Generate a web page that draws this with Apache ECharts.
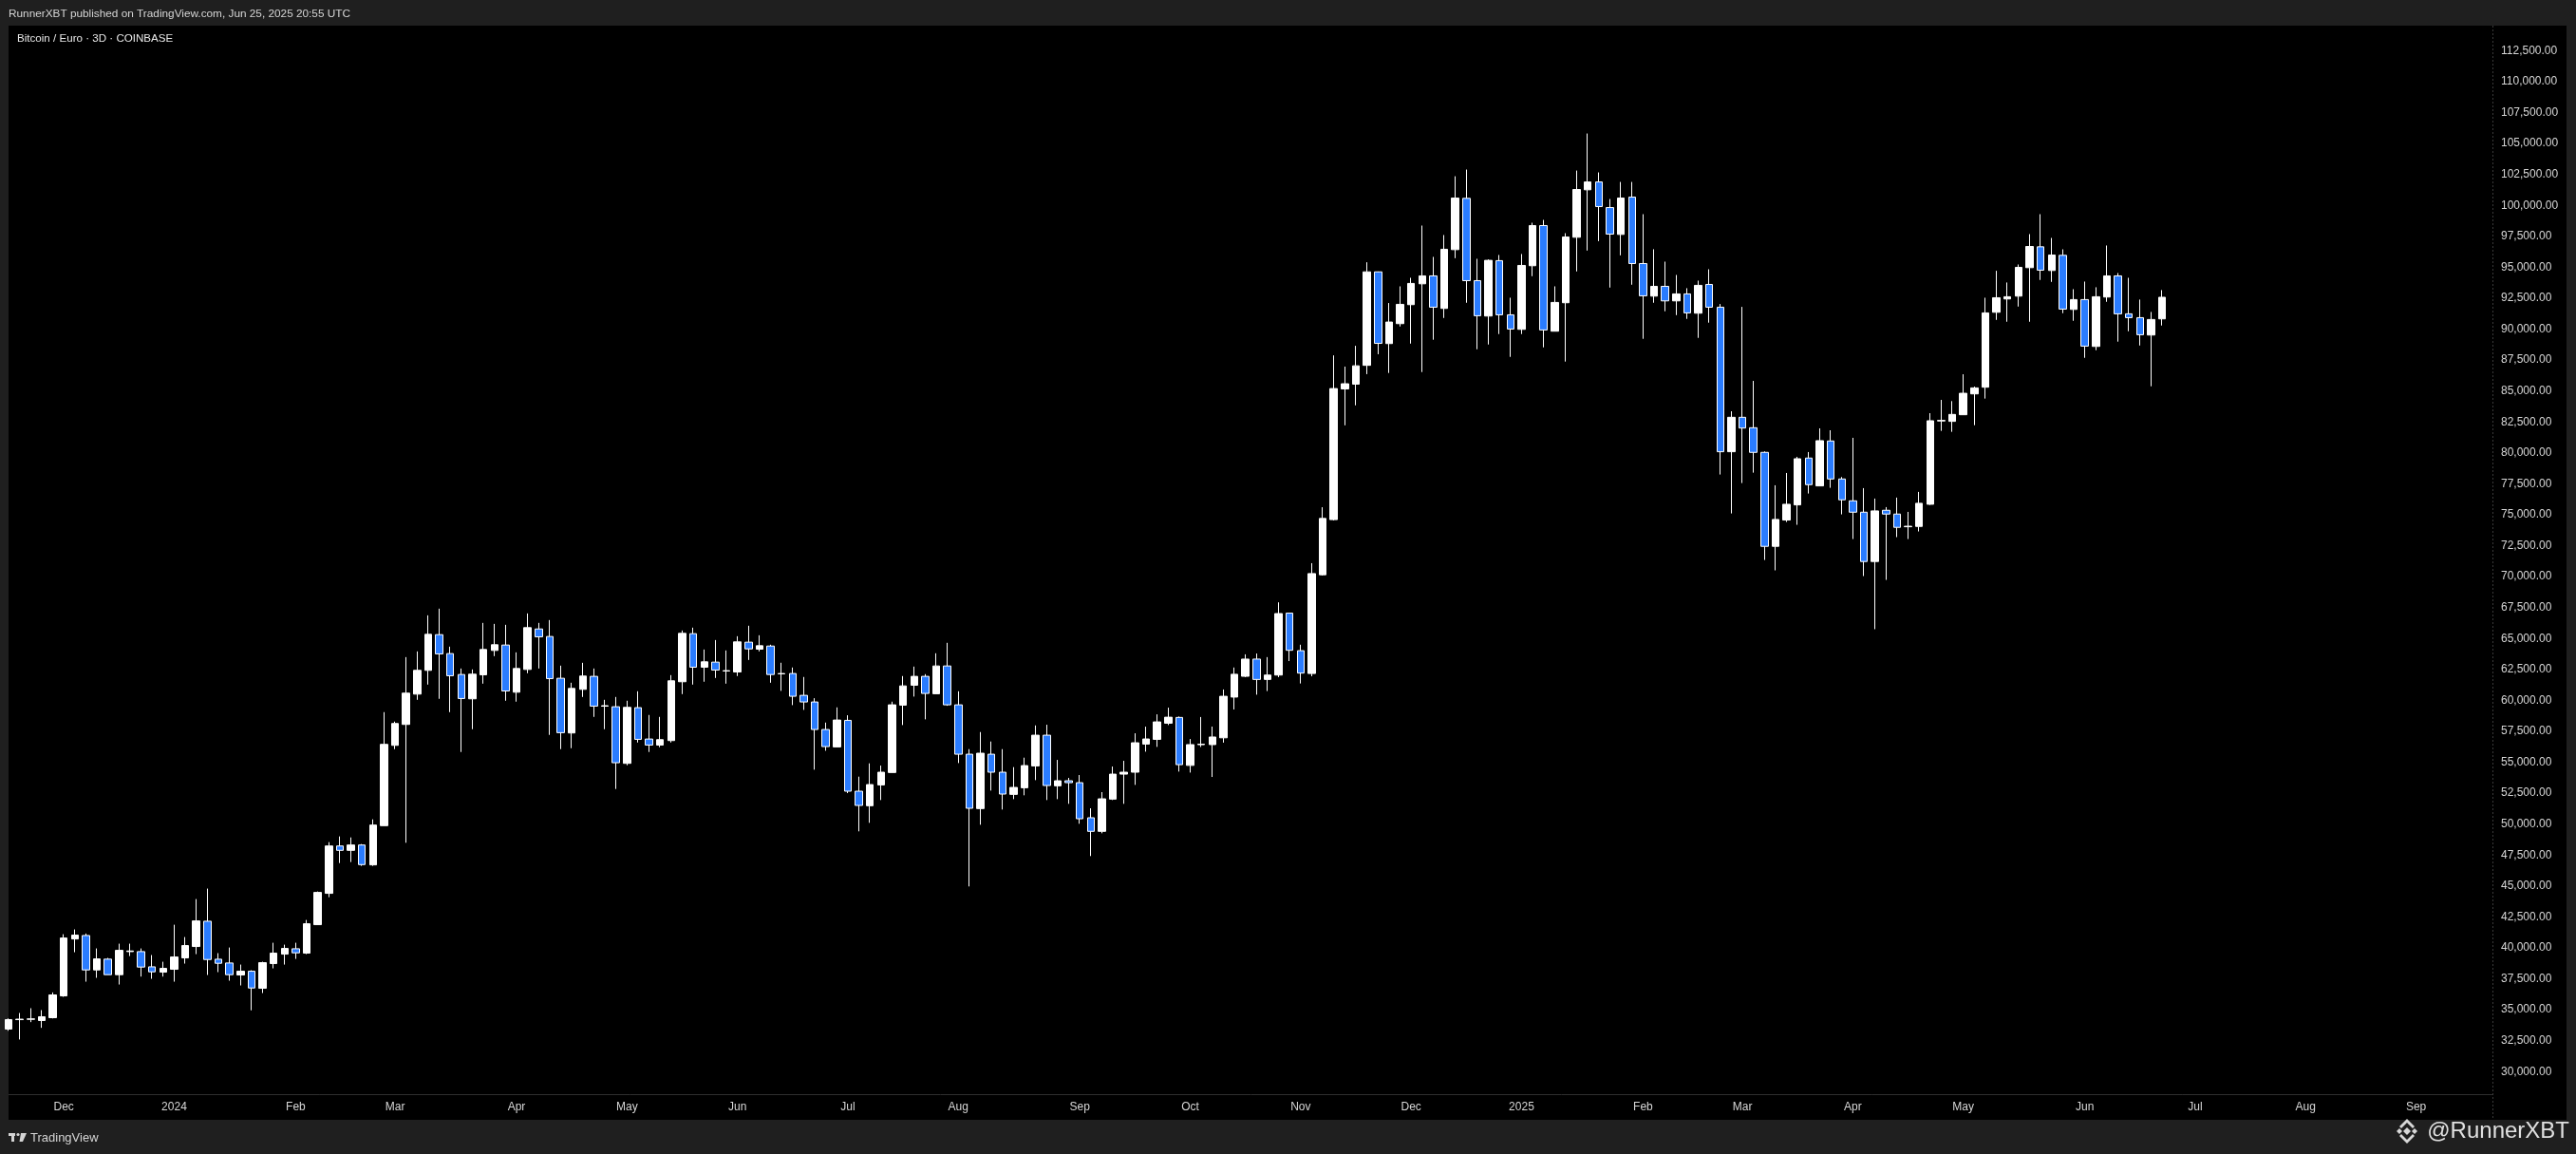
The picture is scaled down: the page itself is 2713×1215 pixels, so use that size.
<!DOCTYPE html>
<html>
<head>
<meta charset="utf-8">
<script src="https://cdn.jsdelivr.net/npm/echarts@6/dist/echarts.min.js"></script>
<style>
html,body{margin:0;padding:0;background:#1f1f1f;}
#chart{width:2713px;height:1215px;}
</style>
</head>
<body>
<div id="chart"></div>
<script>
// ---- DATA (Bitcoin / Euro, 3D candles) ----
const opens = [33440,34200,34230,34130,34360,36120,40720,41000,38220,39090,37835,39700,39700,38470,38040,38270,39190,40110,42155,39085,
38780,37810,38115,36735,38730,39495,39930,39575,41875,44405,48235,47880,48315,46705,49875,56365,58055,60505,62425,65310,
63780,62090,60125,62065,64035,64470,60660,62500,65770,65160,61785,57365,60890,61940,59530,59485,54910,59410,56875,56390,
56750,61505,65390,62680,63090,62370,62295,64700,64135,64390,62140,62170,60405,59870,57645,56240,58385,52660,51485,53170,
54170,59615,61225,61940,60535,62780,59640,55650,51255,55650,54195,52405,52940,54705,57185,53095,53505,53350,50515,49415,
52020,54040,54195,56470,56850,58155,58620,54745,56420,56425,56975,60265,61945,63335,61690,62045,67050,64015,62170,70150,
74605,85165,85550,87070,94625,88830,90440,91975,93660,94300,91670,96420,100565,93915,91055,95530,91155,89980,95120,98365,
89830,92130,97420,101255,101890,99820,97650,100665,95295,92665,93455,92280,92845,91285,93610,91770,80090,82875,82030,80040,
72445,74570,75795,79580,77330,80960,77890,76125,75205,71220,75360,75055,74030,74055,75845,82580,82545,83080,84765,85305,
91360,92435,92665,94965,96650,94735,95960,91590,92385,88600,92590,94300,91235,90925,89520,90825];
const closes = [34205,34240,34260,34435,36200,40800,41030,38220,39110,37835,39800,39750,38450,38065,38345,39265,40185,42180,39060,38755,
37835,38115,36760,38805,39575,39955,39600,41950,44480,48235,47880,48315,46730,49925,56445,58130,60585,62425,65335,63755,
61990,60150,62115,64110,64495,60760,62575,65875,65135,61760,57390,60965,61965,59535,59570,54960,59435,56850,56390,56825,
61580,65415,62680,63115,62450,62400,64725,64160,64415,62090,62170,60330,59870,57645,56265,58410,52660,51510,53195,54195,
59640,61170,61940,60560,62780,59640,55650,51280,55730,54195,52430,52965,54730,57185,53120,53505,53350,50435,49415,52045,
54040,54195,56575,56880,58260,58640,54805,56425,56460,57040,60330,62110,63335,61690,62045,67015,64045,62205,70245,74700,
85195,85585,87035,94625,88845,90570,92000,93690,94300,91770,96450,100590,93915,91080,95555,91155,90005,95145,98365,89930,
92155,97445,101280,101890,99900,97675,100590,95295,92690,93455,92280,92845,91310,93535,91770,80090,82875,82005,80040,72445,
74620,75845,79525,77430,80985,77890,76205,75205,71220,75310,75055,73980,74070,75925,82595,82620,83105,84815,85250,91310,
92535,92615,94990,96675,94760,95985,91615,92385,88625,92615,94300,91235,90925,89545,90775,92571.89];
const lows = [33300,32600,34000,33540,34300,36045,39650,37270,37580,37830,37040,39340,37680,37500,37680,37270,38730,39495,37810,38040,
37350,36965,34955,36350,38345,38650,39110,39495,41870,44095,46855,46935,46625,46625,49870,56060,48495,60045,61275,60125,
59050,55830,57670,61350,63575,59970,59895,62195,62575,57210,56060,56135,60275,58665,57670,52840,54755,56595,55830,56215,
56595,60505,61275,61505,61810,61350,61965,63265,63955,61425,60765,59615,59230,54400,55930,56235,52505,49415,50105,51945,
54165,58005,60305,58465,60530,59560,54935,44965,49950,52710,51180,52020,52330,53555,51945,52020,51640,50030,47420,49260,
51945,51640,53170,55855,56240,58005,54245,54165,56230,53810,56585,59265,61880,60460,60750,61880,63175,61365,61945,70085,
74540,82225,83840,86360,87970,86455,90210,88830,86530,89140,90900,95730,92130,88370,88755,89600,87755,89600,94275,88525,
89825,87375,94660,96345,97110,93355,95960,93585,89215,92130,91440,91130,90825,89290,90520,78250,75105,77560,78400,71345,
70505,74415,74185,76715,77325,77175,75030,73035,70045,65750,69735,73190,73035,73650,75795,81775,81700,83075,82235,84385,
90745,90595,91820,90595,93970,93815,91285,90670,87680,88295,92205,88985,89825,88675,85380,90290];
const highs = [34300,34740,35125,34970,36400,41105,41490,41160,39955,39190,40340,40340,39955,39420,38880,41870,40875,43945,44790,39575,
40030,38650,38190,38880,40415,40260,40415,42255,44555,48545,49005,48925,48390,50385,59050,58285,63495,63955,66870,67410,
64340,62575,62500,66260,66180,66105,63880,67025,66260,66490,62805,61425,63035,62575,60045,60275,59970,60735,58820,58665,
62040,65645,65875,64110,64875,64035,65185,66030,65260,64495,63040,62655,61890,60175,58205,59435,58795,53835,54910,54730,
59895,61965,62730,62120,63805,64650,60735,56060,57440,56675,56060,54605,55370,57975,58030,55190,53735,53965,51280,52585,
54655,55115,57340,57875,58870,59410,58695,56875,58655,57880,60880,62655,63720,63785,63495,67920,67080,64495,71085,75605,
87875,86970,88650,95400,94650,92105,93455,94145,98365,95835,97600,102350,102890,95680,95630,95990,92535,96065,98595,98825,
93455,97750,102810,105805,102660,100510,101890,101890,99285,96450,95450,94375,93305,93915,94835,92025,83360,91795,85815,80115,
77380,78375,79680,80065,81980,81825,78045,81215,77150,76305,75615,76385,75230,76845,83205,84280,84180,86350,85355,92535,
94710,93765,95220,97675,99285,97365,96445,93225,93840,93380,96755,94530,94145,92385,91385,93150];
const lastPrice = 92571.89;
const priceTicks = [30000,32500,35000,37500,40000,42500,45000,47500,50000,52500,55000,57500,60000,62500,65000,67500,70000,
72500,75000,77500,80000,82500,85000,87500,90000,92500,95000,97500,100000,102500,105000,107500,110000,112500];

// 3-day bar dates (as displayed), including the empty space to the right of the last bar
const barCount = 226;
const startDay = Date.UTC(2023, 10, 15);
const categories = [];
for (let i = 0; i < barCount; i++) {
  categories.push(new Date(startDay + i * 3 * 86400000).toISOString().slice(0, 10));
}
const monthNames = ['Jan','Feb','Mar','Apr','May','Jun','Jul','Aug','Sep','Oct','Nov','Dec'];
const monthLabel = categories.map(function (s) {
  const t0 = Date.parse(s);
  for (let k = 0; k < 3; k++) {
    const d = new Date(t0 + k * 86400000);
    if (d.getUTCDate() === 1) {
      return d.getUTCMonth() === 0 ? String(d.getUTCFullYear()) : monthNames[d.getUTCMonth()];
    }
  }
  return '';
});

const candleData = opens.map(function (o, i) { return [o, closes[i], lows[i], highs[i]]; });

const FONT = "'Liberation Sans', Arial, sans-serif";
const fmtPrice = function (v) {
  return Number(v).toLocaleString('en-US', { minimumFractionDigits: 2, maximumFractionDigits: 2 });
};

const chart = echarts.init(document.getElementById('chart'), null, { renderer: 'canvas' });
const option = {
  animation: false,
  backgroundColor: '#1f1f1f',
  grid: { left: 9, right: 87, top: 27, bottom: 63, containLabel: false },
  xAxis: {
    type: 'category',
    data: categories,
    boundaryGap: false,
    axisLine: { show: false },
    axisTick: { show: false },
    splitLine: { show: false },
    axisLabel: {
      interval: function (index) { return monthLabel[index] !== ''; },
      formatter: function (value, index) { return monthLabel[index]; },
      color: '#d6d6d6',
      fontSize: 12,
      fontFamily: FONT,
      margin: 8
    }
  },
  yAxis: {
    type: 'value',
    position: 'right',
    min: 28180,
    max: 114520,
    scale: true,
    axisLine: { show: false },
    axisTick: { show: false },
    splitLine: { show: false },
    axisLabel: {
      customValues: priceTicks,
      formatter: fmtPrice,
      color: '#d6d6d6',
      fontSize: 12,
      fontFamily: FONT,
      margin: 8
    }
  },
  series: [{
    type: 'candlestick',
    data: candleData,
    barWidth: 8,
    clip: true,
    itemStyle: {
      color: '#ffffff',
      color0: '#2a7cff',
      borderColor: '#ffffff',
      borderColor0: '#ffffff',
      borderWidth: 1
    },
    markLine: {
      silent: true,
      symbol: ['none', 'none'],
      lineStyle: { width: 0, opacity: 0 },
      label: {
        show: true,
        position: 'end',
        distance: 0,
        formatter: fmtPrice(lastPrice),
        backgroundColor: '#ffffff',
        color: '#000000',
        fontSize: 12,
        fontFamily: FONT,
        padding: [2, 5, 2, 5]
      },
      data: [{ yAxis: lastPrice }]
    }
  }],
  graphic: [
    { type: 'rect', z: -10, shape: { x: 9, y: 27, width: 2694, height: 1152 }, style: { fill: '#000000' } },
    { type: 'line', z: 5, shape: { x1: 9, y1: 1152.5, x2: 2626, y2: 1152.5 }, style: { stroke: '#2f2f2f', lineWidth: 1 } },
    { type: 'line', z: 5, shape: { x1: 2625.5, y1: 27, x2: 2625.5, y2: 1179 }, style: { stroke: '#3a3a3a', lineWidth: 1, lineDash: [2, 2] } },
    { type: 'text', z: 10, x: 9, y: 15, style: { text: 'RunnerXBT published on TradingView.com, Jun 25, 2025 20:55 UTC', fill: '#d4d4d4', font: '11.8px ' + FONT, textVerticalAlign: 'middle' } },
    { type: 'text', z: 10, x: 18, y: 41, style: { text: 'Bitcoin / Euro · 3D · COINBASE', fill: '#e6e6e6', font: '11.6px ' + FONT, textVerticalAlign: 'middle' } },
    // TradingView logo
    { type: 'rect', z: 10, shape: { x: 9, y: 1193, width: 7, height: 3 }, style: { fill: '#d4d4d4' } },
    { type: 'rect', z: 10, shape: { x: 12, y: 1193, width: 3, height: 9 }, style: { fill: '#d4d4d4' } },
    { type: 'circle', z: 10, shape: { cx: 19, cy: 1194.5, r: 1.6 }, style: { fill: '#d4d4d4' } },
    { type: 'polygon', z: 10, shape: { points: [[22, 1193], [28, 1193], [24, 1202], [20.5, 1202]] }, style: { fill: '#d4d4d4' } },
    { type: 'text', z: 10, x: 32, y: 1198, style: { text: 'TradingView', fill: '#d4d4d4', font: '13px ' + FONT, textVerticalAlign: 'middle' } },
    // watermark logo
    { type: 'polygon', z: 10, shape: { points: [[2535, 1187], [2539, 1191], [2535, 1195], [2531, 1191]] }, style: { fill: '#d8d8d8' } },
    { type: 'polygon', z: 10, shape: { points: [[2535, 1178], [2543, 1186], [2541, 1188], [2535, 1182], [2529, 1188], [2527, 1186]] }, style: { fill: '#d8d8d8' } },
    { type: 'polygon', z: 10, shape: { points: [[2535, 1204], [2543, 1196], [2541, 1194], [2535, 1200], [2529, 1194], [2527, 1196]] }, style: { fill: '#d8d8d8' } },
    { type: 'polygon', z: 10, shape: { points: [[2524, 1191], [2527, 1188], [2530, 1191], [2527, 1194]] }, style: { fill: '#d8d8d8' } },
    { type: 'polygon', z: 10, shape: { points: [[2540, 1191], [2543, 1188], [2546, 1191], [2543, 1194]] }, style: { fill: '#d8d8d8' } },
    { type: 'text', z: 10, x: 2706, y: 1191, style: { text: '@RunnerXBT', fill: '#e0e0e0', font: '24px ' + FONT, textAlign: 'right', textVerticalAlign: 'middle' } }
  ]
};
chart.setOption(option);
</script>
</body>
</html>
